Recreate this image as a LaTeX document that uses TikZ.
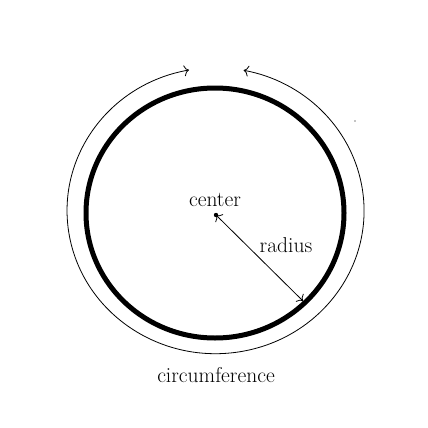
\documentclass[tikz,border=0pt]{standalone}
\usetikzlibrary{arrows.meta}
\tikzstyle{rim} = [draw=black, line width=5pt]
\tikzstyle{guide} = [draw=black, line width=0.8pt]
\tikzstyle{arrow} = [line width=0.8pt,{To[length=5pt,width=11pt]}-{To[length=5pt,width=11pt]}]
\tikzstyle{label} = [anchor=base, inner sep=0pt, font=\fontsize{21.5}{26}\selectfont]

\begin{document}
\begin{tikzpicture}[x=1pt, y=-1pt]
\useasboundingbox (0,0) rectangle (428,428);

%circle
\coordinate (O) at (215,213);
\draw [rim] (O) ellipse [x radius=129, y radius=125];
\fill (216,215) circle [radius=2.2];
\coordinate (C) at (216,215);
\coordinate (R) at (303,301);

%circumference arc
\coordinate (A) at (189,70);
\draw [arrow] (A) arc [start angle=259.7, end angle=-79.1, x radius=148.5, y radius=143];

%radius
\draw [arrow] (C) -- (R);

%labels
\node (center) [label] at (215,206) {center};
\node (radius) [label] at (286,252) {radius};
\node (circ) [label] at (216,382) {circumference};

%stray dot
\fill (355,121) circle [radius=0.6];

\end{tikzpicture}
\end{document}
